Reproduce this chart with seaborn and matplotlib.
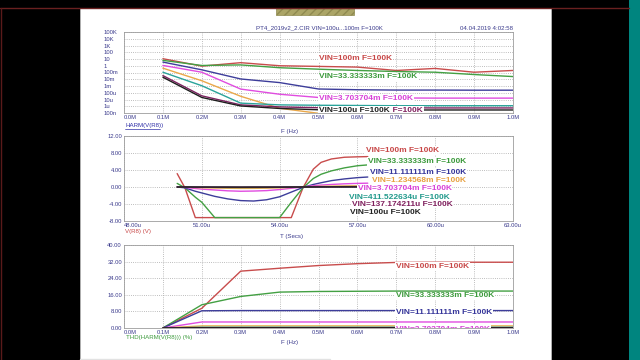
import pandas as pd
import seaborn as sns
import matplotlib.pyplot as plt
from matplotlib.patches import Rectangle
from matplotlib.lines import Line2D

sns.set_style('white')
plt.rcParams['font.family'] = ['Liberation Sans', 'DejaVu Sans']

# stepped input amplitudes (F=100K)
vin_names = ['100m', '33.333333m', '11.111111m', '3.703704m',
             '1.234568m', '411.522634u', '137.174211u', '100u']
line_colors = ['#c84c4c', '#43a043', '#3d3d9a', '#e04ce0',
               '#eaa84a', '#2aa39a', '#7c2260', '#1e1e1e']

# harmonic frequencies (MHz)
freq_m = [0.1, 0.2, 0.3, 0.4, 0.5, 0.6, 0.7, 0.8, 0.9, 1.0]

# HARM(V(R8))
harm_100m = [11.0, 0.88, 2.85, 1.0, 0.8, 0.63, 0.2, 0.4, 0.11, 0.2]
harm_33m = [6.3, 1.1, 1.33, 0.51, 0.31, 0.2, 0.14, 0.11, 0.05, 0.025]
harm_11m = [3.5, 0.25, 0.011, 3.2e-3, 3.6e-4, 2.8e-4, 2.5e-4, 2.5e-4, 2.4e-4, 2.4e-4]
harm_3m7 = [1.12, 0.11, 3.5e-4, 6e-5, 2e-5, 1.7e-5, 1.7e-5, 1.6e-5, 1.6e-5, 1.6e-5]
harm_1m2 = [0.44, 6e-3, 3e-5, 5e-7, 9e-8, 8e-8, 8e-8, 8e-8, 8e-8, 8e-8]
harm_411u = [0.11, 1.1e-3, 2.9e-6, 1.6e-6, 1.4e-6, 1.3e-6, 1.2e-6, 1.2e-6, 1.2e-6, 1.2e-6]
harm_137u = [0.035, 3.5e-5, 1.6e-6, 8e-7, 6e-7, 6e-7, 6e-7, 5.6e-7, 5.6e-7, 5.6e-7]
harm_100u = [0.02, 2e-5, 1.1e-6, 4.7e-7, 3e-7, 2.8e-7, 2.8e-7, 2.8e-7, 2.8e-7, 2.8e-7]

# V(R8) transient (time in us)
time_us = [50.05, 50.35, 50.75, 51.0, 51.5, 52.0, 52.5, 53.0, 53.5,
           54.0, 54.45, 54.9, 55.3, 55.6, 56.0, 56.5, 57.0, 57.4]
v_100m = [3.15, -0.2, -7.2, -7.2, -7.2, -7.2, -7.2, -7.2, -7.2,
          -7.2, -7.2, -0.2, 4.2, 5.8, 6.6, 7.0, 7.1, 7.15]
v_33m = [0.85, -0.2, -2.4, -3.6, -7.2, -7.2, -7.2, -7.2, -7.2,
         -7.2, -3.6, -0.2, 2.0, 3.0, 3.8, 4.5, 5.0, 5.2]
v_11m = [0.0, -0.2, -1.0, -1.4, -2.2, -2.8, -3.2, -3.3, -3.0,
         -2.3, -1.2, -0.1, 0.6, 1.0, 1.5, 1.9, 2.2, 2.35]
v_3m7 = [0.0, -0.1, -0.35, -0.5, -0.7, -0.9, -1.0, -0.95, -0.85,
         -0.6, -0.3, 0.0, 0.3, 0.45, 0.6, 0.75, 0.85, 0.9]
v_1m2 = [0.0, -0.03, -0.12, -0.17, -0.24, -0.3, -0.33, -0.32, -0.28,
         -0.2, -0.1, 0.0, 0.1, 0.15, 0.2, 0.25, 0.28, 0.3]
v_411u = [0.0, -0.01, -0.04, -0.06, -0.08, -0.1, -0.11, -0.1, -0.09,
          -0.07, -0.03, 0.0, 0.03, 0.05, 0.07, 0.08, 0.09, 0.1]
v_137u = [0.0, 0.0, -0.01, -0.02, -0.03, -0.03, -0.04, -0.03, -0.03,
          -0.02, -0.01, 0.0, 0.01, 0.02, 0.02, 0.03, 0.03, 0.03]
v_100u = [0.0, 0.0, -0.01, -0.01, -0.02, -0.02, -0.03, -0.02, -0.02,
          -0.02, -0.01, 0.0, 0.01, 0.01, 0.02, 0.02, 0.02, 0.02]

# THD(HARM(V(R8))) in %
thd_100m = [0.0, 9.5, 27.4, 28.8, 30.1, 31.0, 31.6, 31.7, 31.7, 31.7]
thd_33m = [0.0, 11.2, 15.2, 17.3, 17.6, 17.7, 17.8, 17.8, 17.8, 17.8]
thd_11m = [0.0, 8.3, 8.4, 8.4, 8.4, 8.4, 8.4, 8.4, 8.4, 8.4]
thd_3m7 = [0.0, 2.9, 2.9, 2.9, 2.9, 2.9, 2.9, 2.9, 2.9, 2.9]
thd_1m2 = [0.0, 1.0, 1.0, 1.0, 1.0, 1.0, 1.0, 1.0, 1.0, 1.0]
thd_411u = [0.0, 0.35, 0.35, 0.35, 0.35, 0.35, 0.35, 0.35, 0.35, 0.35]
thd_137u = [0.0, 0.12, 0.12, 0.12, 0.12, 0.12, 0.12, 0.12, 0.12, 0.12]
thd_100u = [0.0, 0.08, 0.08, 0.08, 0.08, 0.08, 0.08, 0.08, 0.08, 0.08]

harm_ticks = [1e5, 1e4, 1e3, 1e2, 10, 1, 0.1, 0.01, 1e-3, 1e-4, 1e-5, 1e-6, 1e-7]
harm_tick_labels = ['100K', '10K', '1K', '100', '10', '1', '100m', '10m',
                    '1m', '100u', '10u', '1u', '100n']
f_tick_labels = ['0.0M', '0.1M', '0.2M', '0.3M', '0.4M', '0.5M',
                 '0.6M', '0.7M', '0.8M', '0.9M', '1.0M']
t_ticks = [48, 51, 54, 57, 60, 63]
t_tick_labels = ['48.00u', '51.00u', '54.00u', '57.00u', '60.00u', '63.00u']
v_ticks = [12, 8, 4, 0, -4, -8]
v_tick_labels = ['12.00', '8.00', '4.00', '0.00', '-4.00', '-8.00']
thd_ticks = [40, 32, 24, 16, 8, 0]
thd_tick_labels = ['40.00', '32.00', '24.00', '16.00', '8.00', '0.00']


def long_table(x, series, xname, yname):
    rows = []
    for name, vals in zip(vin_names, series):
        for xv, yv in zip(x, vals):
            rows.append({xname: xv, yname: yv, 'vin': name})
    return pd.DataFrame(rows)


harm_df = long_table(freq_m, [harm_100m, harm_33m, harm_11m, harm_3m7,
                              harm_1m2, harm_411u, harm_137u, harm_100u], 'F', 'harm')
tran_df = long_table(time_us, [v_100m, v_33m, v_11m, v_3m7,
                               v_1m2, v_411u, v_137u, v_100u], 'T', 'v')
thd_df = long_table(freq_m, [thd_100m, thd_33m, thd_11m, thd_3m7,
                             thd_1m2, thd_411u, thd_137u, thd_100u], 'F', 'thd')

W, H = 640, 360
TICK_C = '#3a3a8c'


def fx(px):
    return px / W


def fy(py):
    return 1 - py / H


def box(l, t, r, b):
    return [fx(l), fy(b), (r - l) / W, (b - t) / H]


fig = plt.figure(figsize=(6.4, 3.6), dpi=100, facecolor='black')

# screenshot frame
fig.add_artist(Rectangle((fx(80), 0), (551 - 80) / W, fy(8), transform=fig.transFigure,
                         facecolor='white', edgecolor='#b8b8b8', lw=0.6, zorder=0))
fig.add_artist(Rectangle((fx(629), 0), 11 / W, 1, transform=fig.transFigure,
                         facecolor='#00857f', edgecolor='none', zorder=0))
fig.add_artist(Line2D([0, fx(629)], [fy(7.5), fy(7.5)], transform=fig.transFigure,
                      color='#6a2020', lw=1.0))
fig.add_artist(Line2D([fx(0.5), fx(0.5)], [0, fy(7.5)], transform=fig.transFigure,
                      color='#5a1a1a', lw=1.0))
fig.add_artist(Rectangle((fx(276), fy(15)), 78 / W, 7 / H, transform=fig.transFigure,
                         facecolor='#aba567', edgecolor='#8f8a50', lw=0.5, hatch='////', zorder=1))
fig.add_artist(Line2D([fx(80), fx(330)], [fy(358.5), fy(358.5)], transform=fig.transFigure,
                      color='#e2e2e2', lw=1.0))


def style_axes(ax):
    ax.set_facecolor('white')
    for s in ax.spines.values():
        s.set_color('#9c9c9c')
        s.set_linewidth(0.6)
    ax.grid(True, color='#a8a8a8', linestyle=(0, (1, 1.6)), linewidth=0.6)
    ax.tick_params(length=0, labelsize=4.2, labelcolor=TICK_C, pad=1.5)
    ax.set_xlabel('')
    ax.set_ylabel('')


ax1 = fig.add_axes(box(124, 32, 513, 113))
ax2 = fig.add_axes(box(124, 136, 513, 221))
ax3 = fig.add_axes(box(124, 245, 513, 328))

sns.lineplot(data=harm_df, x='F', y='harm', hue='vin', palette=line_colors,
             legend=False, ax=ax1, linewidth=1.0, estimator=None, sort=False)
ax1.set_yscale('log')
ax1.set_ylim(1e-7, 1e5)
ax1.set_xlim(0, 1.0)
ax1.set_yticks(harm_ticks)
ax1.set_yticklabels(harm_tick_labels)
ax1.yaxis.set_minor_locator(plt.NullLocator())
ax1.set_xticks([i / 10 for i in range(11)])
ax1.set_xticklabels(f_tick_labels)
style_axes(ax1)
ax1.tick_params(axis='y', pad=14.4)
for lab in ax1.get_yticklabels():
    lab.set_horizontalalignment('left')
ax1.get_xticklabels()[0].set_horizontalalignment('left')

sns.lineplot(data=tran_df, x='T', y='v', hue='vin', palette=line_colors,
             legend=False, ax=ax2, linewidth=1.0, estimator=None, sort=False)
ax2.set_xlim(48, 63)
ax2.set_ylim(-8, 12)
ax2.set_xticks(t_ticks)
ax2.set_xticklabels(t_tick_labels)
ax2.set_yticks(v_ticks)
ax2.set_yticklabels(v_tick_labels)
style_axes(ax2)
ax2.get_xticklabels()[0].set_horizontalalignment('left')

sns.lineplot(data=thd_df, x='F', y='thd', hue='vin', palette=line_colors,
             legend=False, ax=ax3, linewidth=1.0, estimator=None, sort=False)
ax3.set_xlim(0, 1.0)
ax3.set_ylim(0, 40)
ax3.set_xticks([i / 10 for i in range(11)])
ax3.set_xticklabels(f_tick_labels)
ax3.set_yticks(thd_ticks)
ax3.set_yticklabels(thd_tick_labels)
style_axes(ax3)
ax3.get_xticklabels()[0].set_horizontalalignment('left')

label_colors = dict(zip(vin_names, ['#c84848', '#3c9a3c', '#35359a', '#d840d8',
                                    '#e8a040', '#229a8c', '#80205e', '#222222']))


def curve_label(ax, px, py, name, ha='left', z=5):
    ax.text(fx(px), fy(py), f'VIN={name} F=100K', transform=fig.transFigure,
            ha=ha, va='center', fontsize=6, fontweight='bold', color=label_colors[name],
            bbox=dict(facecolor='white', edgecolor='none', pad=0.4), zorder=z, clip_on=True)


curve_label(ax1, 319, 58, '100m')
curve_label(ax1, 319, 77, '33.333333m')
curve_label(ax1, 319, 99, '3.703704m')
curve_label(ax1, 423, 110, '137.174211u', ha='right', z=4)
curve_label(ax1, 319, 111, '100u', z=6)

curve_label(ax2, 366, 150.5, '100m')
curve_label(ax2, 368, 161.5, '33.333333m')
curve_label(ax2, 370, 172.3, '11.111111m')
curve_label(ax2, 372.5, 180, '1.234568m')
curve_label(ax2, 357.5, 188.7, '3.703704m')
curve_label(ax2, 349, 197.3, '411.522634u')
curve_label(ax2, 351.5, 204.3, '137.174211u')
curve_label(ax2, 350, 212.3, '100u')

curve_label(ax3, 396, 266, '100m')
curve_label(ax3, 396, 295.7, '33.333333m')
curve_label(ax3, 396, 313, '11.111111m')
curve_label(ax3, 396, 329.5, '3.703704m')

# header and axis captions
fig.text(fx(319), fy(28), 'PT4_2019v2_2.CIR VIN=100u...100m F=100K', ha='center', va='center',
         fontsize=4.4, color=TICK_C)
fig.text(fx(513), fy(28), '04.04.2019 4:02:58', ha='right', va='center',
         fontsize=4.4, color=TICK_C)
fig.text(fx(125), fy(126), 'HARM(V(R8))', ha='left', va='center', fontsize=4.4, color='#3030a8')
fig.add_artist(Line2D([fx(125), fx(160)], [fy(129), fy(129)], transform=fig.transFigure,
                      color='#3030a8', lw=0.5))
fig.text(fx(290), fy(131), 'F (Hz)', ha='center', va='center', fontsize=4.4, color=TICK_C)
fig.text(fx(125), fy(231), 'V(R8) (V)', ha='left', va='center', fontsize=4.4, color='#c84848')
fig.text(fx(292), fy(236.5), 'T (Secs)', ha='center', va='center', fontsize=4.4, color=TICK_C)
fig.text(fx(126), fy(337), 'THD(HARM(V(R8))) (%)', ha='left', va='center', fontsize=4.4,
         color='#3c9a3c')
fig.text(fx(290), fy(342.5), 'F (Hz)', ha='center', va='center', fontsize=4.4, color=TICK_C)

fig.savefig('out.png', dpi=100, facecolor='black')
